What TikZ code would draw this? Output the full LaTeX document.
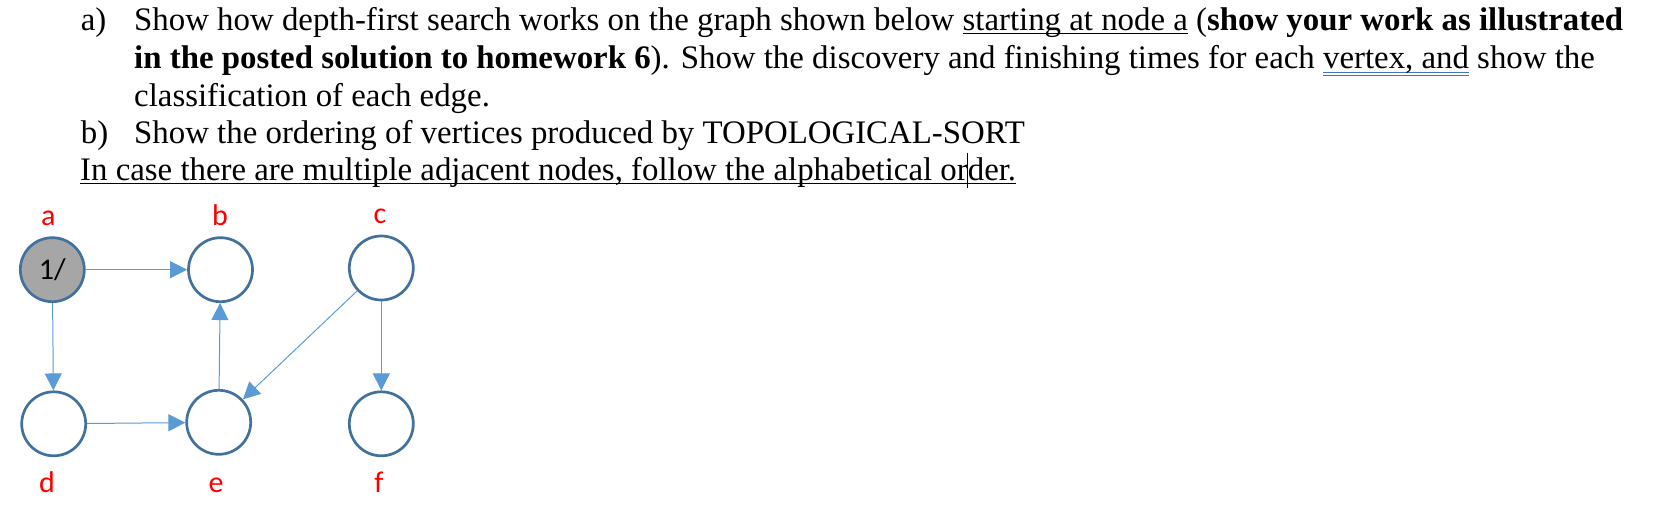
\documentclass[tikz,border=0pt]{standalone}
\usepackage{fontspec}
\setmainfont{Liberation Serif}
\newfontfamily\lblfont{Carlito}
\usetikzlibrary{arrows.meta}
\definecolor{edgeblue}{HTML}{5B9BD5}
\definecolor{ringblue}{HTML}{41719C}
\definecolor{grayfill}{HTML}{A6A6A6}
\definecolor{wordblue}{HTML}{4472C4}
\newsavebox\ulbox
\newcommand\myul[1]{\sbox\ulbox{#1}\rlap{\rule[-3.4pt]{\wd\ulbox}{1.6pt}}\usebox\ulbox}
\newcommand\myuu[1]{\sbox\ulbox{#1}\rlap{\textcolor{wordblue}{\rule[-5pt]{\wd\ulbox}{0.9pt}\hspace{-\wd\ulbox}\rule[-7.5pt]{\wd\ulbox}{0.9pt}}}\usebox\ulbox}
\tikzset{
  txt/.style={inner sep=0pt, anchor=base west, font=\fontsize{32.85}{37.5}\selectfont},
  vtx/.style={circle, draw=ringblue, line width=2.7pt, minimum size=64pt, inner sep=0pt, fill=white},
  lbl/.style={text=red, inner sep=0pt, anchor=base, font=\lblfont\fontsize{30}{36}\selectfont},
  arc/.style={draw=edgeblue, line width=1pt, -{Triangle[length=17pt,width=17pt]}},
}
\begin{document}
\begin{tikzpicture}[x=1pt,y=-1pt]
\useasboundingbox (0,0) rectangle (1680,522);
% text
\node[txt] (l1a) at (80.7,30.7) {a)};
\node[txt] (l1) at (134,30.7) {Show how depth-first search works on the graph shown below \myul{starting at node a} (\textbf{show your work as illustrated}};
\node[txt] (l2) at (134,68.3) {\textbf{in the posted solution to homework 6}). Show the discovery and finishing times for each \myuu{vertex, and} show the};
\node[txt] (l3) at (134,106) {classification of each edge.};
\node[txt] (l4b) at (80.7,143.3) {b)};
\node[txt] (l4) at (134,143.3) {Show the ordering of vertices produced by TOPOLOGICAL-SORT};
\node[txt] (l5) at (80,180.7) {\myul{In case there are multiple adjacent nodes, follow the alphabetical order.}};
\draw[line width=1pt] (967,153) -- (967,188);
% vertices
\node[vtx, fill=grayfill, font=\lblfont\fontsize{30}{36}\selectfont] (a) at (52.3,269.7) {1/};
\node[vtx] (b) at (220.5,269.7) {};
\node[vtx] (c) at (381.3,268) {};
\node[vtx] (d) at (53.7,423.8) {};
\node[vtx] (e) at (218.7,422.3) {};
\node[vtx] (f) at (381.3,423.8) {};
% labels
\node[lbl] (la) at (48.3,225) {a};
\node[lbl] (lb) at (220,225) {b};
\node[lbl] (lc) at (380,223) {c};
\node[lbl] (ld) at (47,492) {d};
\node[lbl] (le) at (216,492) {e};
\node[lbl] (lf) at (379,492) {f};
% edges
\draw[arc] (a) -- (b);
\draw[arc] (a) -- (d);
\draw[arc] (d) -- (e);
\draw[arc] (e) -- (b);
\draw[arc] (c) -- (e);
\draw[arc] (c) -- (f);
\end{tikzpicture}
\end{document}
